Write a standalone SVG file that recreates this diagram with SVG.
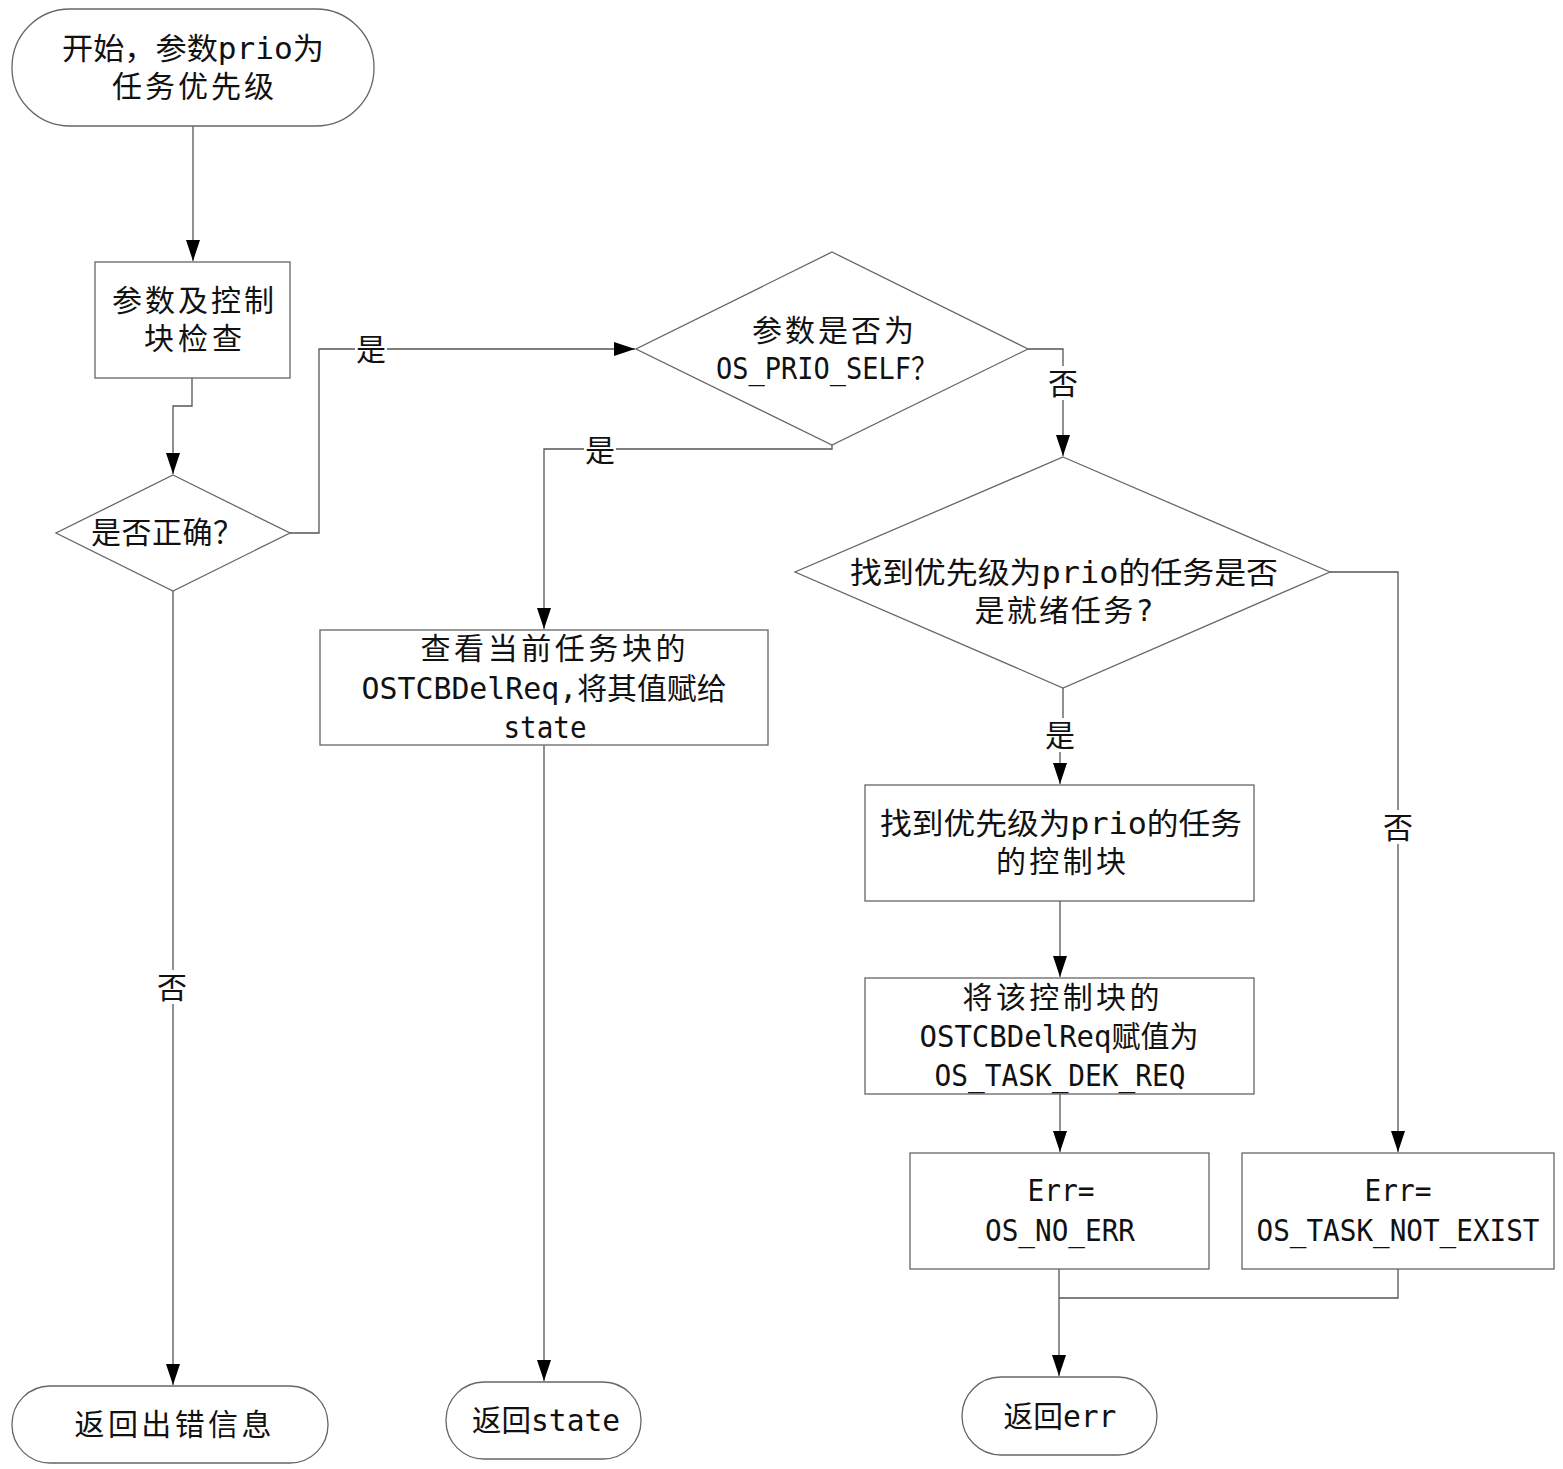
<svg xmlns="http://www.w3.org/2000/svg" width="1563" height="1469" viewBox="0 0 1563 1469">
<style>
.shape{fill:#fff;stroke:#666;stroke-width:1.3}
.conn{fill:none;stroke:#555;stroke-width:1.3}
.t{font-family:"Noto Sans CJK SC","DejaVu Sans",sans-serif;font-size:30px;fill:#111;text-anchor:middle}
.l{font-family:"DejaVu Sans Mono","Liberation Mono",monospace;font-size:30px}
.lbg{fill:#fff}
</style>
<defs>
<marker id="arr" markerUnits="userSpaceOnUse" markerWidth="22" markerHeight="15" refX="21" refY="7" orient="auto">
<path d="M0,0 L21,7 L0,14 z" fill="#000"/>
</marker>
</defs>
<g id="connectors">
<path class="conn" d="M193,126 V261" marker-end="url(#arr)"/>
<path class="conn" d="M192,378 V406 H173 V474" marker-end="url(#arr)"/>
<path class="conn" d="M290,533 H319 V349 H635" marker-end="url(#arr)"/>
<path class="conn" d="M832,445 V449 H544 V629" marker-end="url(#arr)"/>
<path class="conn" d="M1028,349 H1063 V456" marker-end="url(#arr)"/>
<path class="conn" d="M1063,688 V735 H1060 V784" marker-end="url(#arr)"/>
<path class="conn" d="M1330,572 H1398 V1152" marker-end="url(#arr)"/>
<path class="conn" d="M544,745 V1381" marker-end="url(#arr)"/>
<path class="conn" d="M1060,901 V977" marker-end="url(#arr)"/>
<path class="conn" d="M1060,1094 V1152" marker-end="url(#arr)"/>
<path class="conn" d="M1059,1269 V1376" marker-end="url(#arr)"/>
<path class="conn" d="M1398,1269 V1298 H1059"/>
<path class="conn" d="M173,591 V1385" marker-end="url(#arr)"/>
<rect class="lbg" x="355" y="333" width="32" height="34"/>
<text class="t" x="371" y="360">是</text>
<rect class="lbg" x="584" y="434" width="32" height="34"/>
<text class="t" x="600" y="461">是</text>
<rect class="lbg" x="1047" y="366" width="32" height="34"/>
<text class="t" x="1063" y="394">否</text>
<rect class="lbg" x="1043" y="718" width="34" height="34"/>
<text class="t" x="1060" y="746">是</text>
<rect class="lbg" x="1382" y="810" width="32" height="34"/>
<text class="t" x="1398" y="838">否</text>
<rect class="lbg" x="156" y="970" width="32" height="34"/>
<text class="t" x="172" y="998">否</text>
</g>
<g id="start">
<rect class="shape" x="12" y="9" width="362" height="117" rx="58" ry="58"/>
<text class="t" x="193" y="59" textLength="262" lengthAdjust="spacingAndGlyphs">开始，参数<tspan class="l">prio</tspan>为</text>
<text class="t" x="193" y="97" textLength="162" lengthAdjust="spacing">任务优先级</text>
</g>
<g id="check">
<rect class="shape" x="95" y="262" width="195" height="116"/>
<text class="t" x="193" y="311" textLength="162" lengthAdjust="spacing">参数及控制</text>
<text class="t" x="193" y="349" textLength="98" lengthAdjust="spacing">块检查</text>
</g>
<g id="correct">
<polygon class="shape" points="173,475 290,533 173,591 56,533"/>
<text class="t" x="167" y="543" textLength="152" lengthAdjust="spacing">是否正确？</text>
</g>
<g id="self">
<polygon class="shape" points="832,252 1028,349 832,445 636,349"/>
<text class="t" x="833" y="341" textLength="162" lengthAdjust="spacing">参数是否为</text>
<text class="t" x="827" y="379" textLength="222" lengthAdjust="spacingAndGlyphs"><tspan class="l">OS_PRIO_SELF</tspan>？</text>
</g>
<g id="ready">
<polygon class="shape" points="1063,457 1330,572 1063,688 795,572"/>
<text class="t" x="1064" y="583" textLength="428" lengthAdjust="spacingAndGlyphs">找到优先级为<tspan class="l">prio</tspan>的任务是否</text>
<text class="t" x="1064" y="621" textLength="179" lengthAdjust="spacing">是就绪任务<tspan class="l">?</tspan></text>
</g>
<g id="view">
<rect class="shape" x="320" y="630" width="448" height="115"/>
<text class="t" x="553" y="659" textLength="265" lengthAdjust="spacing">查看当前任务块的</text>
<text class="t" x="544" y="699" textLength="365" lengthAdjust="spacingAndGlyphs"><tspan class="l">OSTCBDelReq,</tspan>将其值赋给</text>
<text class="t" x="545" y="738" textLength="83" lengthAdjust="spacingAndGlyphs"><tspan class="l">state</tspan></text>
</g>
<g id="find">
<rect class="shape" x="865" y="785" width="389" height="116"/>
<text class="t" x="1061" y="834" textLength="362" lengthAdjust="spacingAndGlyphs">找到优先级为<tspan class="l">prio</tspan>的任务</text>
<text class="t" x="1061" y="872" textLength="130" lengthAdjust="spacing">的控制块</text>
</g>
<g id="assign">
<rect class="shape" x="865" y="978" width="389" height="116"/>
<text class="t" x="1061" y="1008" textLength="197" lengthAdjust="spacing">将该控制块的</text>
<text class="t" x="1059" y="1047" textLength="279" lengthAdjust="spacingAndGlyphs"><tspan class="l">OSTCBDelReq</tspan>赋值为</text>
<text class="t" x="1060" y="1086" textLength="251" lengthAdjust="spacingAndGlyphs"><tspan class="l">OS_TASK_DEK_REQ</tspan></text>
</g>
<g id="noerr">
<rect class="shape" x="910" y="1153" width="299" height="116"/>
<text class="t" x="1061" y="1201" textLength="67" lengthAdjust="spacingAndGlyphs"><tspan class="l">Err=</tspan></text>
<text class="t" x="1060" y="1241" textLength="150" lengthAdjust="spacingAndGlyphs"><tspan class="l">OS_NO_ERR</tspan></text>
</g>
<g id="notexist">
<rect class="shape" x="1242" y="1153" width="312" height="116"/>
<text class="t" x="1398" y="1201" textLength="67" lengthAdjust="spacingAndGlyphs"><tspan class="l">Err=</tspan></text>
<text class="t" x="1398" y="1241" textLength="283" lengthAdjust="spacingAndGlyphs"><tspan class="l">OS_TASK_NOT_EXIST</tspan></text>
</g>
<g id="reterror">
<rect class="shape" x="12" y="1386" width="316" height="77" rx="38" ry="38"/>
<text class="t" x="173" y="1435" textLength="197" lengthAdjust="spacing">返回出错信息</text>
</g>
<g id="retstate">
<rect class="shape" x="446" y="1382" width="195" height="77" rx="38" ry="38"/>
<text class="t" x="546" y="1431" textLength="148" lengthAdjust="spacingAndGlyphs">返回<tspan class="l">state</tspan></text>
</g>
<g id="reterr">
<rect class="shape" x="962" y="1377" width="195" height="78" rx="39" ry="39"/>
<text class="t" x="1060" y="1427" textLength="113" lengthAdjust="spacingAndGlyphs">返回<tspan class="l">err</tspan></text>
</g>
</svg>
